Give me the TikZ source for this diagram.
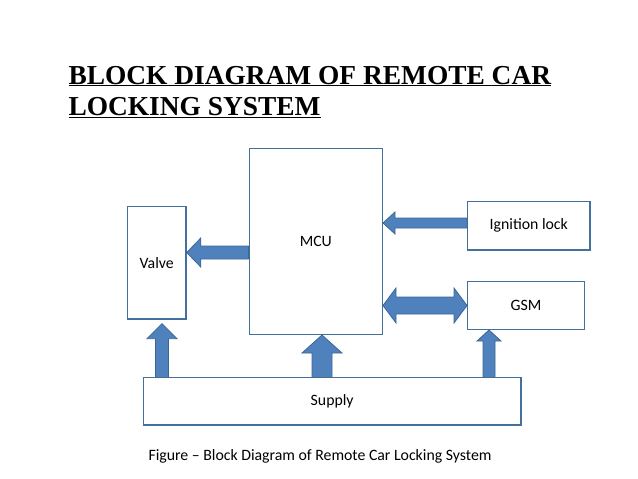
\documentclass[tikz,border=0pt]{standalone}
\usepackage{fontspec}
\setmainfont{Carlito}
\newfontfamily\titlefont{Liberation Serif}
\usetikzlibrary{calc}
\definecolor{boxline}{HTML}{41719C}
\definecolor{arrfill}{HTML}{4F81BD}
\definecolor{arrline}{HTML}{3A6896}
% block arrows: tail, tip, half shaft, half head, head length
\newcommand{\blockarrow}[5]{%
	\coordinate (ba) at ($(#2)!#5!(#1)$);
	\filldraw[arr] ($(#1)!#3!90:(#2)$) -- ($(ba)!#3!-90:(#1)$) -- ($(ba)!#4!-90:(#1)$) -- (#2)
	-- ($(ba)!#4!90:(#1)$) -- ($(ba)!#3!90:(#1)$) -- ($(#1)!#3!-90:(#2)$) -- cycle;}
\newcommand{\dblarrow}[5]{%
	\coordinate (ba) at ($(#2)!#5!(#1)$);
	\coordinate (bb) at ($(#1)!#5!(#2)$);
	\filldraw[arr] (#1) -- ($(bb)!#4!90:(#2)$) -- ($(bb)!#3!90:(#2)$) -- ($(ba)!#3!-90:(#1)$)
	-- ($(ba)!#4!-90:(#1)$) -- (#2) -- ($(ba)!#4!90:(#1)$) -- ($(ba)!#3!90:(#1)$)
	-- ($(bb)!#3!-90:(#2)$) -- ($(bb)!#4!-90:(#2)$) -- cycle;}
\begin{document}
\begin{tikzpicture}[x=1pt,y=-1pt,line join=miter,font=\fontsize{15.8}{18}\selectfont,
	blk/.style={draw=boxline,line width=1.4pt,fill=white,inner sep=0pt},
	arr/.style={fill=arrfill,draw=arrline,line width=0.8pt}]
	\useasboundingbox[fill=white] (0,0) rectangle (638,479);
	% title
	\node[anchor=base west,font=\titlefont\bfseries\fontsize{27.4}{32}\selectfont] (t1) at (65,84) {\underline{BLOCK DIAGRAM OF REMOTE CAR}};
	\node[anchor=base west,font=\titlefont\bfseries\fontsize{27.4}{32}\selectfont] (t2) at (65,115.5) {\underline{LOCKING SYSTEM}};
	% blocks
	\node[blk,minimum width=133pt,minimum height=186pt] (mcu) at (315.8,241.3) {MCU};
	\node[blk,minimum width=58.7pt,minimum height=112.3pt] (valve) at (156.7,262.8) {Valve};
	\node[blk,minimum width=122.3pt,minimum height=48.3pt] (ign) at (528.8,225.8) {Ignition lock};
	\node[blk,minimum width=116.6pt,minimum height=47.6pt] (gsm) at (526,305.5) {GSM};
	\node[blk,minimum width=377.7pt,minimum height=47.7pt] (supply) at (332.2,401.2) {Supply};
	\node[anchor=base west] (cap) at (145,460) {Figure -- Block Diagram of Remote Car Locking System};
	% arrows
	\path
	($(mcu.west)+(0,11.2)$) coordinate (m1)
	($(ign.west)+(0,-2.8)$) coordinate (i1)
	(162,0 |- supply.north) coordinate (s1)
	(322,0 |- supply.north) coordinate (s2)
	(489,0 |- supply.north) coordinate (s3);
	\blockarrow{m1}{valve.east |- m1}{6.5pt}{14.5pt}{14pt}
	\blockarrow{i1}{mcu.east |- i1}{5pt}{11pt}{12pt}
	\dblarrow{mcu.east |- gsm.west}{gsm.west}{8.5pt}{17.5pt}{13pt}
	\blockarrow{s1}{$(s1 |- valve.south)+(0,4)$}{6.5pt}{15pt}{15pt}
	\blockarrow{s2}{s2 |- mcu.south}{10pt}{20pt}{18pt}
	\blockarrow{s3}{s3 |- gsm.south}{6pt}{12pt}{11pt}
\end{tikzpicture}
\end{document}
